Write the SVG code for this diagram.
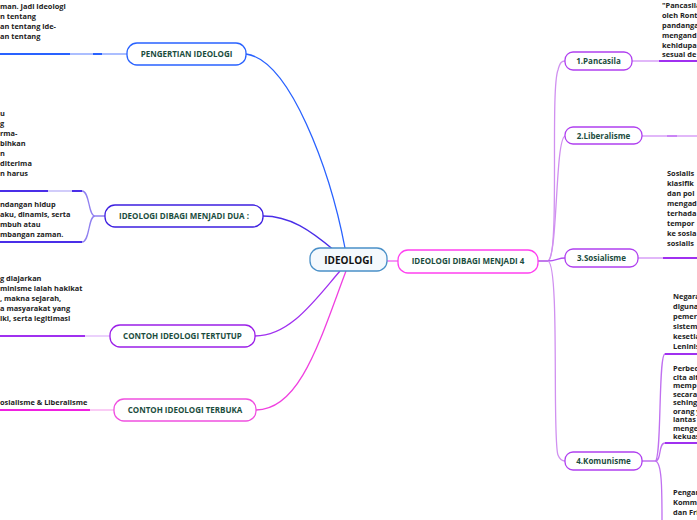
<svg xmlns="http://www.w3.org/2000/svg" width="697" height="520" viewBox="0 0 697 520">
<style>
.n{font-family:"Open Sans","Noto Sans",sans-serif;font-weight:bold;font-size:8px;fill:#1b4d3e;text-anchor:middle}
.t{font-family:"Open Sans","Noto Sans",sans-serif;font-weight:bold;font-size:7.4px;fill:#222}
.c{fill:none;stroke-width:1.3}
</style>
<rect width="697" height="520" fill="#fff"/>
<g id="connectors">
<path class="c" stroke="#2962ff" d="M345,248 C330,170 290,60 246,54"/>
<path class="c" stroke="#4a2ee8" d="M335,251 C310,230 290,216 263,216"/>
<path class="c" stroke="#a030f0" d="M340,271 C315,300 290,336 255,336"/>
<path class="c" stroke="#f040e0" d="M346,271 C320,340 300,410 256,410"/>
<path class="c" stroke="#f060f0" d="M387,261 H398"/>
<path class="c" stroke="#a030e0" d="M538,261 H548"/>
<path class="c" stroke="#d090f0" d="M548,261 C560,258 550,90 558,70 C560,62 562,61 565,61"/>
<path class="c" stroke="#d090f0" d="M548,261 C558,255 555,140 565,136"/>
<path class="c" stroke="#b050f0" d="M548,261 C556,261 558,258 565,258"/>
<path class="c" stroke="#d090f0" d="M548,261 C560,265 552,440 558,455 C560,460 562,461 565,461"/>
<path stroke="#2962ff" stroke-width="2" fill="none" d="M0,54 H70"/><path stroke="#8fa8ff" stroke-width="1.3" d="M70,54 H127"/><path stroke="#2962ff" stroke-width="2" d="M93,54 H102"/>
<path class="c" stroke="#9080f0" d="M105,216 H95 C88,216 90,191 82,191 M95,216 C88,216 90,242 82,242"/>
<path stroke="#4a2ee8" stroke-width="2" d="M0,191 H48 M72,191 H82 M0,242 H82"/><path stroke="#b8b0f8" stroke-width="1.3" d="M48,191 H72"/>
<path stroke="#a030f0" stroke-width="2" d="M0,336 H85"/><path stroke="#e0b8fa" stroke-width="1.3" d="M85,336 H110"/>
<path stroke="#f020e0" stroke-width="2" d="M0,410 H90"/><path stroke="#f8b0f0" stroke-width="1.3" d="M90,410 H114"/>
<path stroke="#a030f0" stroke-width="2" d="M659,61 H697 M667,136 H677 M663,258 H697"/><path stroke="#d8a0f8" stroke-width="1.3" d="M632,61 H659 M642,136 H697 M638,258 H663"/>
<path class="c" stroke="#c070f0" d="M642,461 H655 C662,461 658,354 665,354 M655,461 C662,461 658,443 665,443 M655,461 C662,461 662,490 662,520"/>
<path stroke="#a030f0" stroke-width="2" d="M665,354 H697 M665,443 H697"/>
</g>
<g id="central"><rect x="310" y="248" width="77" height="23" rx="10" fill="#f4f9fd" stroke="#4a90c8" stroke-width="1.3"/><text class="n" x="348.5" y="264" style="font-size:10px;fill:#111">IDEOLOGI</text></g>
<g id="pengertian"><rect x="127" y="43" width="119" height="22" rx="10" fill="#fff" stroke="#2962ff" stroke-width="1.3"/><text class="n" x="186.5" y="57">PENGERTIAN IDEOLOGI</text></g>
<g id="dua"><rect x="105" y="205" width="158" height="22" rx="10" fill="#fff" stroke="#3d1fe0" stroke-width="1.3"/><text class="n" x="184" y="219">IDEOLOGI DIBAGI MENJADI DUA :</text></g>
<g id="tertutup"><rect x="110" y="325" width="145" height="22" rx="10" fill="#fff" stroke="#9b1fe8" stroke-width="1.3"/><text class="n" x="182.5" y="339">CONTOH IDEOLOGI TERTUTUP</text></g>
<g id="terbuka"><rect x="114" y="399" width="142" height="22" rx="10" fill="#fff" stroke="#f050e0" stroke-width="1.3"/><text class="n" x="185" y="413">CONTOH IDEOLOGI TERBUKA</text></g>
<g id="empat"><rect x="398" y="250" width="140" height="23" rx="10" fill="#fff" stroke="#ff40f0" stroke-width="1.3"/><text class="n" x="468" y="264">IDEOLOGI DIBAGI MENJADI 4</text></g>
<g id="pancasila"><rect x="565" y="52" width="67" height="18" rx="8" fill="#fff" stroke="#b040f0" stroke-width="1.3"/><text class="n" x="598.5" y="64">1.Pancasila</text></g>
<g id="liberalisme"><rect x="565" y="127" width="77" height="17" rx="8" fill="#fff" stroke="#b040f0" stroke-width="1.3"/><text class="n" x="603.5" y="139">2.Liberalisme</text></g>
<g id="sosialisme"><rect x="565" y="249" width="73" height="18" rx="8" fill="#fff" stroke="#b040f0" stroke-width="1.3"/><text class="n" x="601.5" y="261">3.Sosialisme</text></g>
<g id="komunisme"><rect x="565" y="452" width="77" height="18" rx="8" fill="#fff" stroke="#b040f0" stroke-width="1.3"/><text class="n" x="603.5" y="464">4.Komunisme</text></g>
<g id="texts">
<text class="t"><tspan x="0" y="9">man. Jadi Ideologi</tspan><tspan x="0" y="19">n tentang</tspan><tspan x="0" y="29">an tentang ide-</tspan><tspan x="0" y="39">an tentang</tspan></text>
<text class="t"><tspan x="0" y="116">u</tspan><tspan x="0" y="126">g</tspan><tspan x="0" y="136">rma-</tspan><tspan x="0" y="146">bihkan</tspan><tspan x="0" y="156">n</tspan><tspan x="0" y="166">diterima</tspan><tspan x="0" y="176">n harus</tspan></text>
<text class="t"><tspan x="0" y="207">ndangan hidup</tspan><tspan x="0" y="217">aku, dinamis, serta</tspan><tspan x="0" y="227">mbuh atau</tspan><tspan x="0" y="237">mbangan zaman.</tspan></text>
<text class="t"><tspan x="0" y="281">g diajarkan</tspan><tspan x="0" y="291">minisme ialah hakikat</tspan><tspan x="0" y="301">, makna sejarah,</tspan><tspan x="0" y="311">a masyarakat yang</tspan><tspan x="0" y="321">iki, serta legitimasi</tspan></text>
<text class="t" x="0" y="405">osialisme &amp; Liberalisme</text>
<text class="t"><tspan x="662" y="8">"Pancasila</tspan><tspan x="662" y="18">oleh Ront</tspan><tspan x="662" y="28">pandanga</tspan><tspan x="662" y="38">mengand</tspan><tspan x="662" y="48">kehidupa</tspan><tspan x="662" y="57">sesuai de</tspan></text>
<text class="t"><tspan x="667" y="176">Sosialis</tspan><tspan x="667" y="186">klasifik</tspan><tspan x="667" y="196">dan pol</tspan><tspan x="667" y="206">mengad</tspan><tspan x="667" y="216">terhada</tspan><tspan x="667" y="226">tempor</tspan><tspan x="667" y="236">ke sosia</tspan><tspan x="667" y="246">sosialis</tspan></text>
<text class="t"><tspan x="673" y="299">Negara</tspan><tspan x="673" y="309">diguna</tspan><tspan x="673" y="319">pemer</tspan><tspan x="673" y="329">sistem</tspan><tspan x="673" y="339">kesetia</tspan><tspan x="673" y="349">Leninis</tspan></text>
<text class="t"><tspan x="673" y="371">Perbed</tspan><tspan x="673" y="379.5">cita alt</tspan><tspan x="673" y="388">memp</tspan><tspan x="673" y="396.5">secara</tspan><tspan x="673" y="405">sehing</tspan><tspan x="673" y="413.5">orang y</tspan><tspan x="673" y="422">lantas</tspan><tspan x="673" y="430.5">menge</tspan><tspan x="673" y="439">kekuas</tspan></text>
<text class="t"><tspan x="673" y="495">Pengan</tspan><tspan x="673" y="505">Komm</tspan><tspan x="673" y="515">dan Fri</tspan></text>
</g>
</svg>
